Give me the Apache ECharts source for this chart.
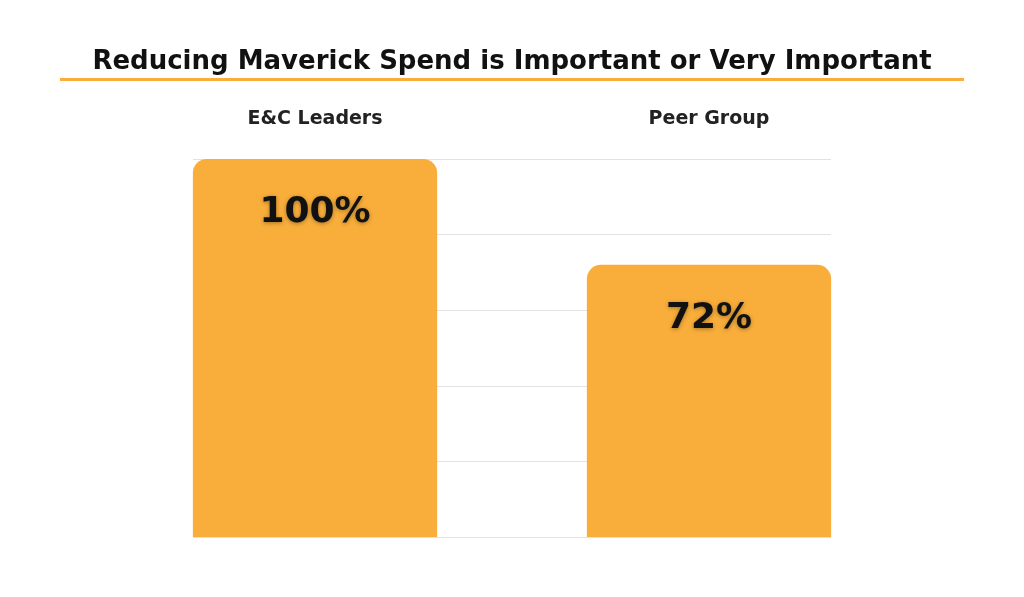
<!DOCTYPE html>
<html>
<head>
<meta charset="utf-8">
<script src="https://cdn.jsdelivr.net/npm/echarts@6/dist/echarts.min.js"></script>
</head>
<body style="margin:0;background:#fff">
<div id="chart" style="width:1024px;height:597px"></div>
<script>
const categories = ['E&C Leaders', 'Peer Group'];
const values = [100, 72];
const font = 'DejaVu Sans';

const chart = echarts.init(document.getElementById('chart'));
chart.setOption({
  backgroundColor: '#fff',
  title: {
    text: 'Reducing Maverick Spend is Important or Very Important',
    left: 'center', top: 44,
    textStyle: { fontFamily: font, fontWeight: 'bold', fontSize: 26, color: '#111' }
  },
  graphic: [{
    type: 'rect', shape: { x: 60, y: 78, width: 904, height: 3 },
    style: { fill: '#F9AE3B' }
  }],
  grid: [
    { left: 193, right: 193, top: 159, bottom: 60 },
    { left: 118, right: 118, top: 159, bottom: 60 }
  ],
  xAxis: [
    { type: 'category', gridIndex: 0, data: categories, show: false },
    {
      type: 'category', gridIndex: 1, data: categories, position: 'top',
      axisLine: { show: false }, axisTick: { show: false },
      axisLabel: { margin: 30, fontFamily: font, fontWeight: 'bold', fontSize: 19, color: '#222' }
    }
  ],
  yAxis: [
    {
      type: 'value', gridIndex: 0, min: 0, max: 100, interval: 20,
      axisLabel: { show: false },
      splitLine: { lineStyle: { color: '#e2e2e2', width: 1 } }
    },
    { type: 'value', gridIndex: 1, min: 0, max: 100, interval: 20, show: false }
  ],
  series: [{
    type: 'bar', xAxisIndex: 1, yAxisIndex: 1, data: values, barCategoryGap: '38%',
    itemStyle: { color: '#F9AE3B', borderRadius: [14, 14, 0, 0] },
    label: {
      show: true, position: 'insideTop', distance: 36,
      formatter: '{c}%', fontFamily: font, fontWeight: 'bold', fontSize: 36, color: '#111',
      textShadowColor: 'rgba(0,0,0,0.35)', textShadowBlur: 4, textShadowOffsetY: 1
    }
  }]
});
</script>
</body>
</html>
